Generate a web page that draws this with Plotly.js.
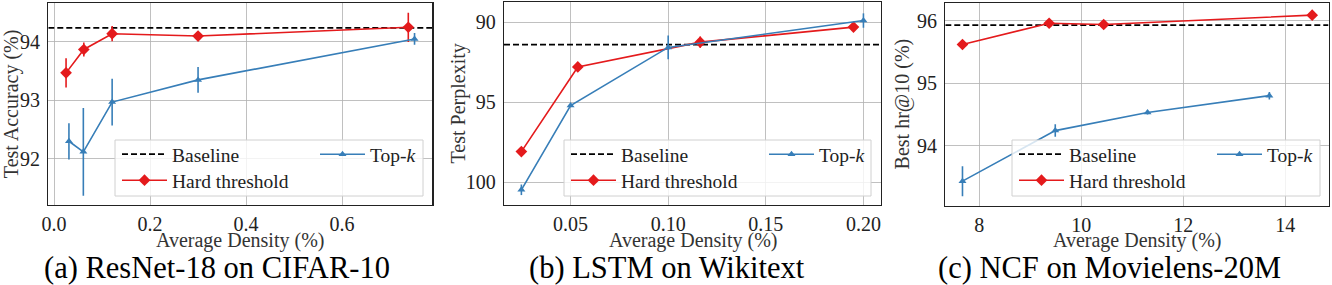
<!DOCTYPE html>
<html>
<head>
<meta charset="utf-8">
<script src="https://cdn.plot.ly/plotly-3.0.1.min.js"></script>
</head>
<body style="margin:0;background:#fff">
<div id="chart"></div>
<script>
// ---------- Data ----------
// (a) ResNet-18 on CIFAR-10
const aHardX = [0.025, 0.062, 0.121, 0.300, 0.738];
const aHardY = [93.47, 93.87, 94.14, 94.10, 94.25];
const aHardErr = [0.25, 0.12, 0.13, 0.05, 0.25];
const aTopX = [0.031, 0.061, 0.121, 0.300, 0.751];
const aTopY = [92.30, 92.12, 92.97, 93.35, 94.05];
const aTopErr = [0.31, 0.75, 0.40, 0.22, 0.10];
const aBaseline = 94.24;
const aXRange = [-0.012, 0.788];
const aYRange = [91.21, 94.66];
const aXTicks = [0.0, 0.2, 0.4, 0.6];
const aXTickText = ["0.0", "0.2", "0.4", "0.6"];
const aYTicks = [92, 93, 94];

// (b) LSTM on Wikitext
const bHardX = [0.0248, 0.0537, 0.1164, 0.1949];
const bHardY = [98.09, 92.80, 91.25, 90.31];
const bHardErr = [0.15, 0.20, 0.35, 0.10];
const bTopX = [0.0248, 0.050, 0.100, 0.200];
const bTopY = [100.48, 95.21, 91.58, 89.90];
const bTopErr = [0.33, 0.10, 0.74, 0.45];
const bBaseline = 91.41;
const bXRange = [0.0159, 0.209];
const bYRange = [101.43, 88.74];
const bXTicks = [0.05, 0.10, 0.15, 0.20];
const bXTickText = ["0.05", "0.10", "0.15", "0.20"];
const bYTicks = [90, 95, 100];

// (c) NCF on Movielens-20M
const cHardX = [7.67, 9.37, 10.44, 14.53];
const cHardY = [95.62, 95.96, 95.94, 96.09];
const cHardErr = [0.05, 0.03, 0.03, 0.02];
const cTopX = [7.67, 9.49, 11.30, 13.69];
const cTopY = [93.43, 94.24, 94.53, 94.80];
const cTopErr = [0.24, 0.10, 0.03, 0.06];
const cBaseline = 95.93;
const cXRange = [7.333, 14.85];
const cYRange = [93.04, 96.28];
const cXTicks = [8, 10, 12, 14];
const cXTickText = ["8", "10", "12", "14"];
const cYTicks = [94, 95, 96];

const seriesNames = ["Baseline", "Hard threshold", "Top-"];
const yTitles = ["Test Accuracy (%)", "Test Perplexity", "Best hr@10 (%)"];
const xTitle = "Average Density (%)";
const captions = ["(a) ResNet-18 on CIFAR-10", "(b) LSTM on Wikitext", "(c) NCF on Movielens-20M"];

// ---------- Styling ----------
const RED = "#e41a1c";
const BLUE = "#377eb8";
const FONT = "Liberation Serif";
const W = 1332, H = 285;

const panels = [
  {hx:aHardX, hy:aHardY, he:aHardErr, tx:aTopX, ty:aTopY, te:aTopErr, base:aBaseline,
   xr:aXRange, yr:aYRange, xt:aXTicks, xtt:aXTickText, yt:aYTicks,
   dom:[48.3, 432.3], ydom:[205, 3.3], leg:[115, 423], cap:216.7, ytx:11},
  {hx:bHardX, hy:bHardY, he:bHardErr, tx:bTopX, ty:bTopY, te:bTopErr, base:bBaseline,
   xr:bXRange, yr:bYRange, xt:bXTicks, xtt:bXTickText, yt:bYTicks,
   dom:[504.0, 881.0], ydom:[205, 2.0], leg:[564, 871], cap:666.5, ytx:458},
  {hx:cHardX, hy:cHardY, he:cHardErr, tx:cTopX, ty:cTopY, te:cTopErr, base:cBaseline,
   xr:cXRange, yr:cYRange, xt:cXTicks, xtt:cXTickText, yt:cYTicks,
   dom:[945.3, 1328.5], ydom:[205.5, 3.3], leg:[1012, 1320], cap:1109.5, ytx:902}
];

const traces = [];
const layout = {
  width: W, height: H,
  margin: {l:0, r:0, t:0, b:0},
  paper_bgcolor: "#fff", plot_bgcolor: "#fff",
  showlegend: true,
  shapes: [], annotations: []
};

panels.forEach((p, i) => {
  const n = i + 1;
  const xa = n === 1 ? "x" : "x" + n;
  const ya = n === 1 ? "y" : "y" + n;
  const lgBase = "legend" + (3*i + 1 === 1 ? "" : (3*i + 1));
  const lgHard = "legend" + (3*i + 2);
  const lgTop = "legend" + (3*i + 3);

  traces.push({
    x: p.xr, y: [p.base, p.base], xaxis: xa, yaxis: ya,
    mode: "lines", name: seriesNames[0], legend: lgBase, showlegend: true,
    line: {color: "#000", width: 1.8, dash: "6px,3px"}, hoverinfo: "skip"
  });
  traces.push({
    x: p.hx, y: p.hy, xaxis: xa, yaxis: ya,
    mode: "lines+markers", name: seriesNames[1], legend: lgHard, showlegend: true,
    line: {color: RED, width: 1.6},
    marker: {symbol: "diamond", size: 9, color: RED},
    error_y: {type: "data", array: p.he, visible: true, color: RED, thickness: 1.6, width: 0}
  });
  traces.push({
    x: p.tx, y: p.ty, xaxis: xa, yaxis: ya,
    mode: "lines+markers", name: seriesNames[2] + "<i>k</i>", legend: lgTop, showlegend: true,
    line: {color: BLUE, width: 1.6},
    marker: {symbol: "triangle-up", size: 7, color: BLUE},
    error_y: {type: "data", array: p.te, visible: true, color: BLUE, thickness: 1.6, width: 0}
  });

  const axCommon = {
    showline: true, linecolor: "#222", linewidth: 1.2, mirror: true,
    showgrid: true, gridcolor: "#b0b0b0", gridwidth: 0.8, zeroline: false,
    ticks: "", tickfont: {family: FONT, size: 20, color: "#222"}
  };
  layout["xaxis" + (n === 1 ? "" : n)] = Object.assign({}, axCommon, {
    domain: [p.dom[0] / W, p.dom[1] / W], anchor: ya,
    range: p.xr, tickmode: "array", tickvals: p.xt, ticktext: p.xtt,
    ticklabelstandoff: 1
  });
  layout["yaxis" + (n === 1 ? "" : n)] = Object.assign({}, axCommon, {
    domain: [1 - p.ydom[0] / H, 1 - p.ydom[1] / H], anchor: xa,
    range: p.yr, tickmode: "array", tickvals: p.yt,
    ticklabelstandoff: 3
  });

  layout.annotations.push({
    text: xTitle, xref: "paper", yref: "paper", showarrow: false,
    x: (p.dom[0] + p.dom[1]) / 2 / W, y: 1 - 240 / H, xanchor: "center", yanchor: "middle",
    font: {family: FONT, size: 20, color: "#333"}
  });
  layout.annotations.push({
    text: yTitles[i], xref: "paper", yref: "paper", showarrow: false, textangle: -90,
    x: p.ytx / W, y: 1 - (p.ydom[0] + p.ydom[1]) / 2 / H, xanchor: "center", yanchor: "middle",
    font: {family: FONT, size: 20, color: "#333"}
  });

  layout.shapes.push({
    type: "rect", xref: "paper", yref: "paper", layer: "above",
    x0: p.leg[0] / W, x1: p.leg[1] / W, y0: 1 - 196 / H, y1: 1 - 140 / H,
    fillcolor: "rgba(255,255,255,0.8)", line: {color: "#d0d0d0", width: 1}
  });
  const legCommon = {
    bgcolor: "rgba(0,0,0,0)", borderwidth: 0, xanchor: "left", yanchor: "top",
    font: {family: FONT, size: 19.5, color: "#222"}, itemclick: false, itemwidth: 45,
    visible: true
  };
  layout[lgBase] = Object.assign({}, legCommon, {x: (p.leg[0] + 2) / W, y: 1 - 135 / H});
  layout[lgHard] = Object.assign({}, legCommon, {x: (p.leg[0] + 2) / W, y: 1 - 161 / H});
  layout[lgTop] = Object.assign({}, legCommon, {x: (p.leg[0] + 200) / W, y: 1 - 135 / H});

  layout.annotations.push({
    text: captions[i], xref: "paper", yref: "paper", showarrow: false,
    x: p.cap / W, y: 1 - 268 / H, xanchor: "center", yanchor: "middle",
    font: {family: FONT, size: 30.5, color: "#000"}
  });
});

Plotly.newPlot("chart", traces, layout, {displayModeBar: false, staticPlot: true});
</script>
</body>
</html>
